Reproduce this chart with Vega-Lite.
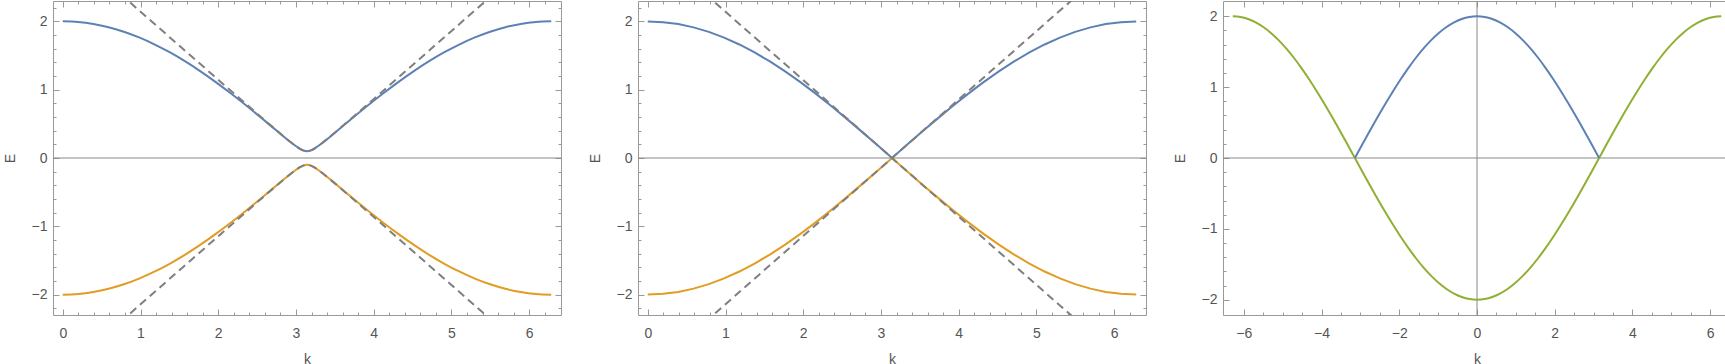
{
 "$schema": "https://vega.github.io/schema/vega-lite/v6.json",
 "padding": {"left": 3, "top": 0, "right": 0, "bottom": 0},
 "spacing": 26,
 "datasets": {
  "bands1": [
   {"k":0,"E":2.0025,"s":"upper"},{"k":0.19635,"E":1.99288,"s":"upper"},{"k":0.3927,"E":1.96412,"s":"upper"},{"k":0.58905,"E":1.91649,"s":"upper"},{"k":0.7854,"E":1.85046,"s":"upper"},{"k":0.98175,"E":1.76668,"s":"upper"},{"k":1.1781,"E":1.66594,"s":"upper"},{"k":1.37445,"E":1.54925,"s":"upper"},{"k":1.5708,"E":1.41774,"s":"upper"},{"k":1.76715,"E":1.27272,"s":"upper"},{"k":1.9635,"E":1.11563,"s":"upper"},{"k":2.15984,"E":0.94808,"s":"upper"},{"k":2.35619,"E":0.77187,"s":"upper"},{"k":2.55254,"E":0.58912,"s":"upper"},{"k":2.74889,"E":0.40279,"s":"upper"},{"k":2.94524,"E":0.22007,"s":"upper"},{"k":2.99159,"E":0.18016,"s":"upper"},{"k":3.04159,"E":0.14139,"s":"upper"},{"k":3.09159,"E":0.1118,"s":"upper"},{"k":3.14159,"E":0.1,"s":"upper"},{"k":3.19159,"E":0.1118,"s":"upper"},{"k":3.24159,"E":0.14139,"s":"upper"},{"k":3.29159,"E":0.18016,"s":"upper"},{"k":3.33794,"E":0.22007,"s":"upper"},{"k":3.53429,"E":0.40279,"s":"upper"},{"k":3.73064,"E":0.58912,"s":"upper"},{"k":3.92699,"E":0.77187,"s":"upper"},{"k":4.12334,"E":0.94808,"s":"upper"},{"k":4.31969,"E":1.11563,"s":"upper"},{"k":4.51604,"E":1.27272,"s":"upper"},{"k":4.71239,"E":1.41774,"s":"upper"},{"k":4.90874,"E":1.54925,"s":"upper"},{"k":5.10509,"E":1.66594,"s":"upper"},{"k":5.30144,"E":1.76668,"s":"upper"},{"k":5.49779,"E":1.85046,"s":"upper"},{"k":5.69414,"E":1.91649,"s":"upper"},{"k":5.89049,"E":1.96412,"s":"upper"},{"k":6.08684,"E":1.99288,"s":"upper"},{"k":6.28319,"E":2.0025,"s":"upper"},
   {"k":0,"E":-2.0025,"s":"lower"},{"k":0.19635,"E":-1.99288,"s":"lower"},{"k":0.3927,"E":-1.96412,"s":"lower"},{"k":0.58905,"E":-1.91649,"s":"lower"},{"k":0.7854,"E":-1.85046,"s":"lower"},{"k":0.98175,"E":-1.76668,"s":"lower"},{"k":1.1781,"E":-1.66594,"s":"lower"},{"k":1.37445,"E":-1.54925,"s":"lower"},{"k":1.5708,"E":-1.41774,"s":"lower"},{"k":1.76715,"E":-1.27272,"s":"lower"},{"k":1.9635,"E":-1.11563,"s":"lower"},{"k":2.15984,"E":-0.94808,"s":"lower"},{"k":2.35619,"E":-0.77187,"s":"lower"},{"k":2.55254,"E":-0.58912,"s":"lower"},{"k":2.74889,"E":-0.40279,"s":"lower"},{"k":2.94524,"E":-0.22007,"s":"lower"},{"k":2.99159,"E":-0.18016,"s":"lower"},{"k":3.04159,"E":-0.14139,"s":"lower"},{"k":3.09159,"E":-0.1118,"s":"lower"},{"k":3.14159,"E":-0.1,"s":"lower"},{"k":3.19159,"E":-0.1118,"s":"lower"},{"k":3.24159,"E":-0.14139,"s":"lower"},{"k":3.29159,"E":-0.18016,"s":"lower"},{"k":3.33794,"E":-0.22007,"s":"lower"},{"k":3.53429,"E":-0.40279,"s":"lower"},{"k":3.73064,"E":-0.58912,"s":"lower"},{"k":3.92699,"E":-0.77187,"s":"lower"},{"k":4.12334,"E":-0.94808,"s":"lower"},{"k":4.31969,"E":-1.11563,"s":"lower"},{"k":4.51604,"E":-1.27272,"s":"lower"},{"k":4.71239,"E":-1.41774,"s":"lower"},{"k":4.90874,"E":-1.54925,"s":"lower"},{"k":5.10509,"E":-1.66594,"s":"lower"},{"k":5.30144,"E":-1.76668,"s":"lower"},{"k":5.49779,"E":-1.85046,"s":"lower"},{"k":5.69414,"E":-1.91649,"s":"lower"},{"k":5.89049,"E":-1.96412,"s":"lower"},{"k":6.08684,"E":-1.99288,"s":"lower"},{"k":6.28319,"E":-2.0025,"s":"lower"}
  ],
  "dash1": [
   {"k":0.74159,"E":2.4021,"s":"upper"},{"k":1.54159,"E":1.6031,"s":"upper"},{"k":1.94159,"E":1.2042,"s":"upper"},{"k":2.34159,"E":0.8062,"s":"upper"},{"k":2.54159,"E":0.6083,"s":"upper"},{"k":2.74159,"E":0.4123,"s":"upper"},{"k":2.84159,"E":0.3162,"s":"upper"},{"k":2.94159,"E":0.2236,"s":"upper"},{"k":3.04159,"E":0.1414,"s":"upper"},{"k":3.09159,"E":0.1118,"s":"upper"},{"k":3.14159,"E":0.1,"s":"upper"},{"k":3.19159,"E":0.1118,"s":"upper"},{"k":3.24159,"E":0.1414,"s":"upper"},{"k":3.34159,"E":0.2236,"s":"upper"},{"k":3.44159,"E":0.3162,"s":"upper"},{"k":3.54159,"E":0.4123,"s":"upper"},{"k":3.74159,"E":0.6083,"s":"upper"},{"k":3.94159,"E":0.8062,"s":"upper"},{"k":4.34159,"E":1.2042,"s":"upper"},{"k":4.74159,"E":1.6031,"s":"upper"},{"k":5.54159,"E":2.4021,"s":"upper"},
   {"k":0.74159,"E":-2.4021,"s":"lower"},{"k":1.54159,"E":-1.6031,"s":"lower"},{"k":1.94159,"E":-1.2042,"s":"lower"},{"k":2.34159,"E":-0.8062,"s":"lower"},{"k":2.54159,"E":-0.6083,"s":"lower"},{"k":2.74159,"E":-0.4123,"s":"lower"},{"k":2.84159,"E":-0.3162,"s":"lower"},{"k":2.94159,"E":-0.2236,"s":"lower"},{"k":3.04159,"E":-0.1414,"s":"lower"},{"k":3.09159,"E":-0.1118,"s":"lower"},{"k":3.14159,"E":-0.1,"s":"lower"},{"k":3.19159,"E":-0.1118,"s":"lower"},{"k":3.24159,"E":-0.1414,"s":"lower"},{"k":3.34159,"E":-0.2236,"s":"lower"},{"k":3.44159,"E":-0.3162,"s":"lower"},{"k":3.54159,"E":-0.4123,"s":"lower"},{"k":3.74159,"E":-0.6083,"s":"lower"},{"k":3.94159,"E":-0.8062,"s":"lower"},{"k":4.34159,"E":-1.2042,"s":"lower"},{"k":4.74159,"E":-1.6031,"s":"lower"},{"k":5.54159,"E":-2.4021,"s":"lower"}
  ],
  "bands2": [
   {"k":0,"E":2,"s":"upper"},{"k":0.19635,"E":1.99037,"s":"upper"},{"k":0.3927,"E":1.96157,"s":"upper"},{"k":0.58905,"E":1.91388,"s":"upper"},{"k":0.7854,"E":1.84776,"s":"upper"},{"k":0.98175,"E":1.76384,"s":"upper"},{"k":1.1781,"E":1.66294,"s":"upper"},{"k":1.37445,"E":1.54602,"s":"upper"},{"k":1.5708,"E":1.41421,"s":"upper"},{"k":1.76715,"E":1.26879,"s":"upper"},{"k":1.9635,"E":1.11114,"s":"upper"},{"k":2.15984,"E":0.94279,"s":"upper"},{"k":2.35619,"E":0.76537,"s":"upper"},{"k":2.55254,"E":0.58057,"s":"upper"},{"k":2.74889,"E":0.39018,"s":"upper"},{"k":2.94524,"E":0.19603,"s":"upper"},{"k":3.14159,"E":0,"s":"upper"},{"k":3.33794,"E":0.19603,"s":"upper"},{"k":3.53429,"E":0.39018,"s":"upper"},{"k":3.73064,"E":0.58057,"s":"upper"},{"k":3.92699,"E":0.76537,"s":"upper"},{"k":4.12334,"E":0.94279,"s":"upper"},{"k":4.31969,"E":1.11114,"s":"upper"},{"k":4.51604,"E":1.26879,"s":"upper"},{"k":4.71239,"E":1.41421,"s":"upper"},{"k":4.90874,"E":1.54602,"s":"upper"},{"k":5.10509,"E":1.66294,"s":"upper"},{"k":5.30144,"E":1.76384,"s":"upper"},{"k":5.49779,"E":1.84776,"s":"upper"},{"k":5.69414,"E":1.91388,"s":"upper"},{"k":5.89049,"E":1.96157,"s":"upper"},{"k":6.08684,"E":1.99037,"s":"upper"},{"k":6.28319,"E":2,"s":"upper"},
   {"k":0,"E":-2,"s":"lower"},{"k":0.19635,"E":-1.99037,"s":"lower"},{"k":0.3927,"E":-1.96157,"s":"lower"},{"k":0.58905,"E":-1.91388,"s":"lower"},{"k":0.7854,"E":-1.84776,"s":"lower"},{"k":0.98175,"E":-1.76384,"s":"lower"},{"k":1.1781,"E":-1.66294,"s":"lower"},{"k":1.37445,"E":-1.54602,"s":"lower"},{"k":1.5708,"E":-1.41421,"s":"lower"},{"k":1.76715,"E":-1.26879,"s":"lower"},{"k":1.9635,"E":-1.11114,"s":"lower"},{"k":2.15984,"E":-0.94279,"s":"lower"},{"k":2.35619,"E":-0.76537,"s":"lower"},{"k":2.55254,"E":-0.58057,"s":"lower"},{"k":2.74889,"E":-0.39018,"s":"lower"},{"k":2.94524,"E":-0.19603,"s":"lower"},{"k":3.14159,"E":0,"s":"lower"},{"k":3.33794,"E":-0.19603,"s":"lower"},{"k":3.53429,"E":-0.39018,"s":"lower"},{"k":3.73064,"E":-0.58057,"s":"lower"},{"k":3.92699,"E":-0.76537,"s":"lower"},{"k":4.12334,"E":-0.94279,"s":"lower"},{"k":4.31969,"E":-1.11114,"s":"lower"},{"k":4.51604,"E":-1.26879,"s":"lower"},{"k":4.71239,"E":-1.41421,"s":"lower"},{"k":4.90874,"E":-1.54602,"s":"lower"},{"k":5.10509,"E":-1.66294,"s":"lower"},{"k":5.30144,"E":-1.76384,"s":"lower"},{"k":5.49779,"E":-1.84776,"s":"lower"},{"k":5.69414,"E":-1.91388,"s":"lower"},{"k":5.89049,"E":-1.96157,"s":"lower"},{"k":6.08684,"E":-1.99037,"s":"lower"},{"k":6.28319,"E":-2,"s":"lower"}
  ],
  "dash2": [
   {"k":0.74159,"E":2.4,"s":"upper"},{"k":3.14159,"E":0,"s":"upper"},{"k":5.54159,"E":2.4,"s":"upper"},
   {"k":0.74159,"E":-2.4,"s":"lower"},{"k":3.14159,"E":0,"s":"lower"},{"k":5.54159,"E":-2.4,"s":"lower"}
  ],
  "green3": [
   {"k":-6.28319,"E":2,"s":"outer"},{"k":-6.08684,"E":1.99037,"s":"outer"},{"k":-5.89049,"E":1.96157,"s":"outer"},{"k":-5.69414,"E":1.91388,"s":"outer"},{"k":-5.49779,"E":1.84776,"s":"outer"},{"k":-5.30144,"E":1.76384,"s":"outer"},{"k":-5.10509,"E":1.66294,"s":"outer"},{"k":-4.90874,"E":1.54602,"s":"outer"},{"k":-4.71239,"E":1.41421,"s":"outer"},{"k":-4.51604,"E":1.26879,"s":"outer"},{"k":-4.31969,"E":1.11114,"s":"outer"},{"k":-4.12334,"E":0.94279,"s":"outer"},{"k":-3.92699,"E":0.76537,"s":"outer"},{"k":-3.73064,"E":0.58057,"s":"outer"},{"k":-3.53429,"E":0.39018,"s":"outer"},{"k":-3.33794,"E":0.19603,"s":"outer"},{"k":-3.14159,"E":0,"s":"outer"},{"k":-2.94524,"E":-0.19603,"s":"outer"},{"k":-2.74889,"E":-0.39018,"s":"outer"},{"k":-2.55254,"E":-0.58057,"s":"outer"},{"k":-2.35619,"E":-0.76537,"s":"outer"},{"k":-2.15984,"E":-0.94279,"s":"outer"},{"k":-1.9635,"E":-1.11114,"s":"outer"},{"k":-1.76715,"E":-1.26879,"s":"outer"},{"k":-1.5708,"E":-1.41421,"s":"outer"},{"k":-1.37445,"E":-1.54602,"s":"outer"},{"k":-1.1781,"E":-1.66294,"s":"outer"},{"k":-0.98175,"E":-1.76384,"s":"outer"},{"k":-0.7854,"E":-1.84776,"s":"outer"},{"k":-0.58905,"E":-1.91388,"s":"outer"},{"k":-0.3927,"E":-1.96157,"s":"outer"},{"k":-0.19635,"E":-1.99037,"s":"outer"},{"k":0,"E":-2,"s":"outer"},{"k":0.19635,"E":-1.99037,"s":"outer"},{"k":0.3927,"E":-1.96157,"s":"outer"},{"k":0.58905,"E":-1.91388,"s":"outer"},{"k":0.7854,"E":-1.84776,"s":"outer"},{"k":0.98175,"E":-1.76384,"s":"outer"},{"k":1.1781,"E":-1.66294,"s":"outer"},{"k":1.37445,"E":-1.54602,"s":"outer"},{"k":1.5708,"E":-1.41421,"s":"outer"},{"k":1.76715,"E":-1.26879,"s":"outer"},{"k":1.9635,"E":-1.11114,"s":"outer"},{"k":2.15984,"E":-0.94279,"s":"outer"},{"k":2.35619,"E":-0.76537,"s":"outer"},{"k":2.55254,"E":-0.58057,"s":"outer"},{"k":2.74889,"E":-0.39018,"s":"outer"},{"k":2.94524,"E":-0.19603,"s":"outer"},{"k":3.14159,"E":0,"s":"outer"},{"k":3.33794,"E":0.19603,"s":"outer"},{"k":3.53429,"E":0.39018,"s":"outer"},{"k":3.73064,"E":0.58057,"s":"outer"},{"k":3.92699,"E":0.76537,"s":"outer"},{"k":4.12334,"E":0.94279,"s":"outer"},{"k":4.31969,"E":1.11114,"s":"outer"},{"k":4.51604,"E":1.26879,"s":"outer"},{"k":4.71239,"E":1.41421,"s":"outer"},{"k":4.90874,"E":1.54602,"s":"outer"},{"k":5.10509,"E":1.66294,"s":"outer"},{"k":5.30144,"E":1.76384,"s":"outer"},{"k":5.49779,"E":1.84776,"s":"outer"},{"k":5.69414,"E":1.91388,"s":"outer"},{"k":5.89049,"E":1.96157,"s":"outer"},{"k":6.08684,"E":1.99037,"s":"outer"},{"k":6.28319,"E":2,"s":"outer"}
  ],
  "blue3": [
   {"k":-3.14159,"E":0,"s":"inner"},{"k":-2.94524,"E":0.19603,"s":"inner"},{"k":-2.74889,"E":0.39018,"s":"inner"},{"k":-2.55254,"E":0.58057,"s":"inner"},{"k":-2.35619,"E":0.76537,"s":"inner"},{"k":-2.15984,"E":0.94279,"s":"inner"},{"k":-1.9635,"E":1.11114,"s":"inner"},{"k":-1.76715,"E":1.26879,"s":"inner"},{"k":-1.5708,"E":1.41421,"s":"inner"},{"k":-1.37445,"E":1.54602,"s":"inner"},{"k":-1.1781,"E":1.66294,"s":"inner"},{"k":-0.98175,"E":1.76384,"s":"inner"},{"k":-0.7854,"E":1.84776,"s":"inner"},{"k":-0.58905,"E":1.91388,"s":"inner"},{"k":-0.3927,"E":1.96157,"s":"inner"},{"k":-0.19635,"E":1.99037,"s":"inner"},{"k":0,"E":2,"s":"inner"},{"k":0.19635,"E":1.99037,"s":"inner"},{"k":0.3927,"E":1.96157,"s":"inner"},{"k":0.58905,"E":1.91388,"s":"inner"},{"k":0.7854,"E":1.84776,"s":"inner"},{"k":0.98175,"E":1.76384,"s":"inner"},{"k":1.1781,"E":1.66294,"s":"inner"},{"k":1.37445,"E":1.54602,"s":"inner"},{"k":1.5708,"E":1.41421,"s":"inner"},{"k":1.76715,"E":1.26879,"s":"inner"},{"k":1.9635,"E":1.11114,"s":"inner"},{"k":2.15984,"E":0.94279,"s":"inner"},{"k":2.35619,"E":0.76537,"s":"inner"},{"k":2.55254,"E":0.58057,"s":"inner"},{"k":2.74889,"E":0.39018,"s":"inner"},{"k":2.94524,"E":0.19603,"s":"inner"},{"k":3.14159,"E":0,"s":"inner"}
  ]
 },
 "hconcat": [
  {
   "width": 508, "height": 314,
   "resolve": {"axis": {"x": "independent", "y": "independent"}},
   "layer": [
    {"data": {"values": [{}]}, "mark": {"type": "rule", "color": "#888888", "strokeWidth": 1},
     "encoding": {"y": {"datum": 0, "type": "quantitative", "axis": null}}},
    {"data": {"name": "bands1"},
     "mark": {"type": "line", "strokeWidth": 2, "clip": true, "interpolate": "monotone"},
     "encoding": {
      "x": {"field": "k", "type": "quantitative", "scale": {"domain": [-0.1257, 6.4088], "nice": false, "zero": false},
            "axis": {"orient": "bottom", "tickCount": 500, "values": [0,0.2,0.4,0.6,0.8,1,1.2,1.4,1.6,1.8,2,2.2,2.4,2.6,2.8,3,3.2,3.4,3.6,3.8,4,4.2,4.4,4.6,4.8,5,5.2,5.4,5.6,5.8,6,6.2], "labelExpr": "datum.value % 1 === 0 ? format(datum.value, 'd') : ''", "labelOverlap": false, "tickSize": {"condition": {"test": "datum.value % 1 === 0", "value": -6}, "value": -3}, "labelPadding": 17, "title": "k", "titlePadding": 9}},
      "y": {"field": "E", "type": "quantitative", "scale": {"domain": [-2.3, 2.3], "nice": false, "zero": false},
            "axis": {"orient": "left", "tickCount": 500, "values": [-2.2,-2,-1.8,-1.6,-1.4,-1.2,-1,-0.8,-0.6,-0.4,-0.2,0,0.2,0.4,0.6,0.8,1,1.2,1.4,1.6,1.8,2,2.2], "labelExpr": "datum.value % 1 === 0 ? format(datum.value, 'd') : ''", "labelOverlap": false, "tickSize": {"condition": {"test": "datum.value % 1 === 0", "value": -6}, "value": -3}, "labelPadding": 12, "title": "E", "titlePadding": 14}},
      "color": {"field": "s", "type": "nominal", "scale": {"domain": ["upper","lower","inner","outer"], "range": ["#5E81B5","#E19C24","#5E81B5","#8FB032"]}, "legend": null}
     }},
    {"data": {"name": "dash1"},
     "mark": {"type": "line", "strokeWidth": 2, "strokeDash": [8, 5], "color": "#7f7f7f", "clip": true, "interpolate": "monotone"},
     "encoding": {
      "x": {"field": "k", "type": "quantitative", "scale": {"domain": [-0.1257, 6.4088], "nice": false, "zero": false},
            "axis": {"orient": "top", "tickCount": 500, "values": [0,0.2,0.4,0.6,0.8,1,1.2,1.4,1.6,1.8,2,2.2,2.4,2.6,2.8,3,3.2,3.4,3.6,3.8,4,4.2,4.4,4.6,4.8,5,5.2,5.4,5.6,5.8,6,6.2], "labels": false, "title": null, "tickSize": {"condition": {"test": "datum.value % 1 === 0", "value": -6}, "value": -3}}},
      "y": {"field": "E", "type": "quantitative", "scale": {"domain": [-2.3, 2.3], "nice": false, "zero": false},
            "axis": {"orient": "right", "tickCount": 500, "values": [-2.2,-2,-1.8,-1.6,-1.4,-1.2,-1,-0.8,-0.6,-0.4,-0.2,0,0.2,0.4,0.6,0.8,1,1.2,1.4,1.6,1.8,2,2.2], "labels": false, "title": null, "tickSize": {"condition": {"test": "datum.value % 1 === 0", "value": -6}, "value": -3}}},
      "detail": {"field": "s", "type": "nominal"}
     }}
   ]
  },
  {
   "width": 508, "height": 314,
   "resolve": {"axis": {"x": "independent", "y": "independent"}},
   "layer": [
    {"data": {"values": [{}]}, "mark": {"type": "rule", "color": "#888888", "strokeWidth": 1},
     "encoding": {"y": {"datum": 0, "type": "quantitative", "axis": null}}},
    {"data": {"name": "bands2"},
     "mark": {"type": "line", "strokeWidth": 2, "clip": true},
     "encoding": {
      "x": {"field": "k", "type": "quantitative", "scale": {"domain": [-0.1257, 6.4088], "nice": false, "zero": false},
            "axis": {"orient": "bottom", "tickCount": 500, "values": [0,0.2,0.4,0.6,0.8,1,1.2,1.4,1.6,1.8,2,2.2,2.4,2.6,2.8,3,3.2,3.4,3.6,3.8,4,4.2,4.4,4.6,4.8,5,5.2,5.4,5.6,5.8,6,6.2], "labelExpr": "datum.value % 1 === 0 ? format(datum.value, 'd') : ''", "labelOverlap": false, "tickSize": {"condition": {"test": "datum.value % 1 === 0", "value": -6}, "value": -3}, "labelPadding": 17, "title": "k", "titlePadding": 9}},
      "y": {"field": "E", "type": "quantitative", "scale": {"domain": [-2.3, 2.3], "nice": false, "zero": false},
            "axis": {"orient": "left", "tickCount": 500, "values": [-2.2,-2,-1.8,-1.6,-1.4,-1.2,-1,-0.8,-0.6,-0.4,-0.2,0,0.2,0.4,0.6,0.8,1,1.2,1.4,1.6,1.8,2,2.2], "labelExpr": "datum.value % 1 === 0 ? format(datum.value, 'd') : ''", "labelOverlap": false, "tickSize": {"condition": {"test": "datum.value % 1 === 0", "value": -6}, "value": -3}, "labelPadding": 12, "title": "E", "titlePadding": 14}},
      "color": {"field": "s", "type": "nominal", "scale": {"domain": ["upper","lower","inner","outer"], "range": ["#5E81B5","#E19C24","#5E81B5","#8FB032"]}, "legend": null}
     }},
    {"data": {"name": "dash2"},
     "mark": {"type": "line", "strokeWidth": 2, "strokeDash": [8, 5], "color": "#7f7f7f", "clip": true},
     "encoding": {
      "x": {"field": "k", "type": "quantitative", "scale": {"domain": [-0.1257, 6.4088], "nice": false, "zero": false},
            "axis": {"orient": "top", "tickCount": 500, "values": [0,0.2,0.4,0.6,0.8,1,1.2,1.4,1.6,1.8,2,2.2,2.4,2.6,2.8,3,3.2,3.4,3.6,3.8,4,4.2,4.4,4.6,4.8,5,5.2,5.4,5.6,5.8,6,6.2], "labels": false, "title": null, "tickSize": {"condition": {"test": "datum.value % 1 === 0", "value": -6}, "value": -3}}},
      "y": {"field": "E", "type": "quantitative", "scale": {"domain": [-2.3, 2.3], "nice": false, "zero": false},
            "axis": {"orient": "right", "tickCount": 500, "values": [-2.2,-2,-1.8,-1.6,-1.4,-1.2,-1,-0.8,-0.6,-0.4,-0.2,0,0.2,0.4,0.6,0.8,1,1.2,1.4,1.6,1.8,2,2.2], "labels": false, "title": null, "tickSize": {"condition": {"test": "datum.value % 1 === 0", "value": -6}, "value": -3}}},
      "detail": {"field": "s", "type": "nominal"}
     }}
   ]
  },
  {
   "width": 508, "height": 314,
   "resolve": {"axis": {"x": "independent", "y": "independent"}},
   "layer": [
    {"data": {"values": [{}]}, "mark": {"type": "rule", "color": "#888888", "strokeWidth": 1},
     "encoding": {"y": {"datum": 0, "type": "quantitative", "axis": null}}},
    {"data": {"values": [{}]}, "mark": {"type": "rule", "color": "#888888", "strokeWidth": 1},
     "encoding": {"x": {"datum": 0, "type": "quantitative", "axis": null}}},
    {"data": {"name": "green3"},
     "mark": {"type": "line", "strokeWidth": 2, "clip": true, "interpolate": "monotone"},
     "encoding": {
      "x": {"field": "k", "type": "quantitative", "scale": {"domain": [-6.5345, 6.5345], "nice": false, "zero": false},
            "axis": {"orient": "bottom", "tickCount": 500, "values": [-6,-5.5,-5,-4.5,-4,-3.5,-3,-2.5,-2,-1.5,-1,-0.5,0,0.5,1,1.5,2,2.5,3,3.5,4,4.5,5,5.5,6], "labelExpr": "datum.value % 2 === 0 ? format(datum.value, 'd') : ''", "labelOverlap": false, "tickSize": {"condition": {"test": "datum.value % 2 === 0", "value": -6}, "value": -3}, "labelPadding": 17, "title": "k", "titlePadding": 9}},
      "y": {"field": "E", "type": "quantitative", "scale": {"domain": [-2.215, 2.215], "nice": false, "zero": false},
            "axis": {"orient": "left", "tickCount": 500, "values": [-2,-1.8,-1.6,-1.4,-1.2,-1,-0.8,-0.6,-0.4,-0.2,0,0.2,0.4,0.6,0.8,1,1.2,1.4,1.6,1.8,2], "labelExpr": "datum.value % 1 === 0 ? format(datum.value, 'd') : ''", "labelOverlap": false, "tickSize": {"condition": {"test": "datum.value % 1 === 0", "value": -6}, "value": -3}, "labelPadding": 12, "title": "E", "titlePadding": 14}},
      "color": {"field": "s", "type": "nominal", "scale": {"domain": ["upper","lower","inner","outer"], "range": ["#5E81B5","#E19C24","#5E81B5","#8FB032"]}, "legend": null}
     }},
    {"data": {"name": "blue3"},
     "mark": {"type": "line", "strokeWidth": 2, "clip": true, "interpolate": "monotone"},
     "encoding": {
      "x": {"field": "k", "type": "quantitative", "scale": {"domain": [-6.5345, 6.5345], "nice": false, "zero": false},
            "axis": {"orient": "top", "tickCount": 500, "values": [-6,-5.5,-5,-4.5,-4,-3.5,-3,-2.5,-2,-1.5,-1,-0.5,0,0.5,1,1.5,2,2.5,3,3.5,4,4.5,5,5.5,6], "labels": false, "title": null, "tickSize": {"condition": {"test": "datum.value % 2 === 0", "value": -6}, "value": -3}}},
      "y": {"field": "E", "type": "quantitative", "scale": {"domain": [-2.215, 2.215], "nice": false, "zero": false},
            "axis": {"orient": "right", "tickCount": 500, "values": [-2,-1.8,-1.6,-1.4,-1.2,-1,-0.8,-0.6,-0.4,-0.2,0,0.2,0.4,0.6,0.8,1,1.2,1.4,1.6,1.8,2], "labels": false, "title": null, "tickSize": {"condition": {"test": "datum.value % 1 === 0", "value": -6}, "value": -3}}},
      "color": {"field": "s", "type": "nominal", "scale": {"domain": ["upper","lower","inner","outer"], "range": ["#5E81B5","#E19C24","#5E81B5","#8FB032"]}, "legend": null}
     }}
   ]
  }
 ],
 "config": {
  "font": "Liberation Sans",
  "view": {"stroke": null},
  "axis": {"domainColor": "#999999", "domainWidth": 1, "tickColor": "#999999", "tickWidth": 1, "labelColor": "#555555", "labelFontSize": 14, "labelFont": "Liberation Sans", "titleColor": "#555555", "titleFontSize": 14, "titleFont": "Liberation Sans", "titleFontWeight": "normal", "grid": false, "labelOverlap": false, "labelFlush": false, "labelBound": false}
 }
}
